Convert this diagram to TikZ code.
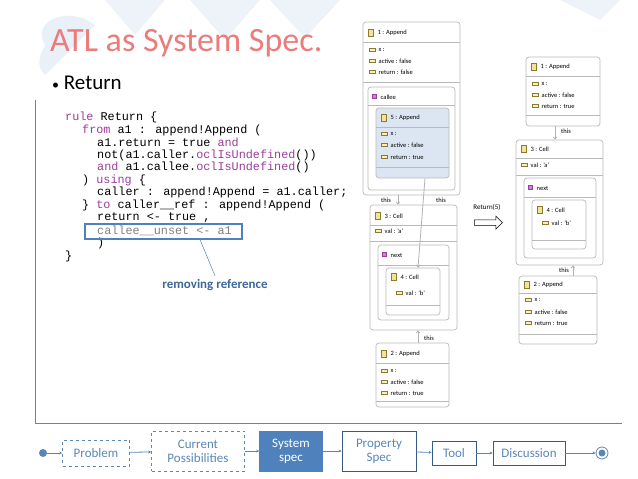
\documentclass[tikz,border=0pt]{standalone}
\usepackage{fontspec}
\setmainfont{Carlito}
\newfontfamily\codefont{Liberation Mono}
\usetikzlibrary{positioning,fit,shapes.arrows,arrows.meta}

\definecolor{titlered}{HTML}{EA7C7C}
\definecolor{slideblue}{HTML}{4F81BD}
\definecolor{flowblue}{HTML}{5A86B8}
\definecolor{kwpurple}{HTML}{9A3D9A}
\definecolor{boxfill}{HTML}{DCE6F2}
\definecolor{iconfill}{HTML}{F2E29A}
\definecolor{iconline}{HTML}{8A7A2A}

\newcommand{\kw}[1]{\textcolor{kwpurple}{#1}}
% object header: icon + text
\newcommand{\hdr}[3]{%
  \node[hicon] at (#1,#2) {};
  \node[small,anchor=west] at (#1+6,#2) {#3};}
% attribute line
\newcommand{\attr}[3]{%
  \node[aicon] at (#1,#2) {};
  \node[small,anchor=west] at (#1+6,#2) {#3};}

\begin{document}
\begin{tikzpicture}[x=1pt,y=-1pt]
\tikzset{obj/.style={draw=gray!55,rounded corners=3,line width=0.7,inner sep=0}}
\tikzset{small/.style={font=\fontsize{6.5}{7}\selectfont,inner sep=0.5}}
\tikzset{hicon/.style={draw=iconline,fill=iconfill,minimum width=5,minimum height=7,inner sep=0,line width=0.4}}
\tikzset{aicon/.style={draw=iconline,fill=iconfill!60,minimum width=6,minimum height=3,inner sep=0,line width=0.4}}
\tikzset{sep/.style={gray!55,line width=0.5}}
\tikzset{conn/.style={gray!60,line width=0.8,-{To[length=3pt,width=4pt]}}}
\tikzset{code/.style={anchor=west,inner sep=0,font=\codefont\fontsize{11.8}{12}\selectfont}}
\tikzset{stage/.style={draw=flowblue,text=flowblue,line width=0.7,align=center,font=\fontsize{13}{14}\selectfont,inner sep=0}}
\tikzset{flow/.style={flowblue,line width=0.8,-{Stealth[length=3pt,width=3pt]}}}

\useasboundingbox (0,0) rectangle (638,479);

% faint background
\fill[slideblue!10] (105,0) -- (135,35) -- (165,0) -- cycle;
\fill[slideblue!10] (190,0) -- (225,40) -- (260,0) -- cycle;
\fill[slideblue!10] (270,0) -- (305,38) -- (340,0) -- cycle;
\fill[slideblue!10] (560,0) -- (600,20) -- (620,0) -- cycle;
\fill[slideblue!12] (45,45) .. controls (30,20) and (70,5) .. (95,25) .. controls (80,40) and (60,60) .. (45,75) .. controls (35,65) and (40,55) .. (45,45);

% title
\node[anchor=west,text=titlered,font=\fontsize{34}{36}\selectfont,inner sep=0] (title) at (50,43) {ATL as System Spec.};
\node[anchor=west,font=\fontsize{21}{23}\selectfont,inner sep=0] (bullet) at (52,83) {{\fontsize{14}{14}\selectfont\textbullet}\ Return};

% code
\node[code] (l1) at (65,117) {\kw{rule} Return \{};
\node[code] (l2) at (82,130) {\kw{from} a1 : append!Append (};
\node[code] (l3) at (97,142) {a1.return = true \kw{and}};
\node[code] (l4) at (97,155) {not(a1.caller.\kw{oclIsUndefined}())};
\node[code] (l5) at (97,167) {\kw{and} a1.callee.\kw{oclIsUndefined}()};
\node[code] (l6) at (82,180) {) \kw{using} \{};
\node[code] (l7) at (97,192) {caller : append!Append = a1.caller;};
\node[code] (l8) at (82,205) {\} \kw{to} caller\_\_ref : append!Append (};
\node[code] (l9) at (97,218) {return <{}- true ,};
\node[code,text=gray] (l10) at (97,231) {callee\_\_unset <{}- a1};
\node[code] (l11) at (97,243) {)};
\node[code] (l12) at (65,256) {\}};
\node[draw=slideblue,line width=1.2,fit={(85,224)(242,239)},inner sep=0] (hl) {};
\node[text=slideblue!80!black,font=\bfseries\fontsize{13}{14}\selectfont] (rem) at (215,285) {removing reference};
\draw[slideblue,line width=0.5] (200,0 |- hl.south) -- (rem.north);

% left object stack
\node[obj,fit={(363,22)(460,195)}] (a1) {};
\hdr{371}{33}{1 : Append}
\draw[sep] (363,42) -- (460,42);
\attr{372}{50}{x :}
\attr{372}{61}{active : false}
\attr{372}{72}{return : false}
\draw[sep] (363,82) -- (460,82);
\node[obj,fit={(368,87)(455,190)}] (ce) {};
\node[draw=kwpurple,fill=kwpurple!60,minimum size=4,inner sep=0] at (374,96) {};
\node[small,anchor=west] at (380,97) {callee};
\draw[sep] (368,105) -- (455,105);
\node[obj,fill=boxfill,fit={(376,108)(449,178)}] (a5) {};
\hdr{384}{118}{5 : Append}
\draw[sep] (376,127) -- (449,127);
\attr{384}{134}{x :}
\attr{384}{145}{active : false}
\attr{384}{157}{return : true}
\draw[sep] (376,167) -- (449,167);

\node[obj,fit={(370,205)(457,330)}] (c3) {};
\hdr{378}{216}{3 : Cell}
\draw[sep] (370,225) -- (457,225);
\attr{378}{231}{val : 'a'}
\draw[sep] (370,241) -- (457,241);
\node[obj,fit={(378,245)(449,320)}] (nx) {};
\node[draw=kwpurple,fill=kwpurple!60,minimum size=4,inner sep=0] at (384,254) {};
\node[small,anchor=west] at (390,255) {next};
\draw[sep] (378,265) -- (449,265);
\node[obj,fit={(386,268)(440,315)}] (c4) {};
\hdr{394}{277}{4 : Cell}
\attr{399}{293}{val : 'b'}
\draw[sep] (386,305) -- (440,305);

\node[obj,fit={(376,343)(449,407)}] (a2) {};
\hdr{384}{354}{2 : Append}
\draw[sep] (376,363) -- (449,363);
\attr{384}{371}{x :}
\attr{384}{382}{active : false}
\attr{384}{393}{return : true}
\draw[sep] (376,401) -- (449,401);

\draw[conn] (398,0 |- a1.south) -- (398,0 |- c3.north);
\node[small] at (386,200) {this};
\draw[conn] (425,0 |- a5.south) -- (418,0 |- c4.north);
\node[small] at (441,200) {this};
\draw[conn] (418,0 |- a2.north) -- (418,0 |- c3.south);
\node[small] at (429,338) {this};

% transition
\node[font=\fontsize{7}{8}\selectfont] (rl) at (487,207) {Return(5)};
\node[single arrow,draw,line width=0.6,minimum height=28,minimum width=13,single arrow head extend=2.5,inner sep=1.5,below=6pt of rl] (ret) {};

% right object stack
\node[obj,fit={(526,57)(600,126)}] (b1) {};
\hdr{534}{67}{1 : Append}
\draw[sep] (526,76) -- (600,76);
\attr{535}{84}{x :}
\attr{535}{95}{active : false}
\attr{535}{106}{return : true}
\draw[sep] (526,115) -- (600,115);

\node[obj,fit={(516,140)(603,265)}] (d3) {};
\hdr{524}{149}{3 : Cell}
\draw[sep] (516,158) -- (603,158);
\attr{524}{165}{val : 'a'}
\draw[sep] (516,175) -- (603,175);
\node[obj,fit={(524,178)(596,258)}] (nx2) {};
\node[draw=kwpurple,fill=kwpurple!60,minimum size=4,inner sep=0] at (530,187) {};
\node[small,anchor=west] at (536,188) {next};
\draw[sep] (524,197) -- (596,197);
\node[obj,fit={(532,200)(586,249)}] (d4) {};
\hdr{540}{210}{4 : Cell}
\attr{545}{223}{val : 'b'}
\draw[sep] (532,240) -- (586,240);

\node[obj,fit={(519,276)(597,344)}] (b2) {};
\hdr{527}{285}{2 : Append}
\draw[sep] (519,293) -- (597,293);
\attr{528}{300}{x :}
\attr{528}{312}{active : false}
\attr{528}{323}{return : true}
\draw[sep] (519,334) -- (597,334);

\draw[conn] (555,0 |- b1.south) -- (555,0 |- d3.north);
\node[small] at (566,131) {this};
\draw[conn] (573,0 |- b2.north) -- (573,0 |- d3.south);
\node[small] at (564,270) {this};

% frame lines
\coordinate (fa) at (35,100);
\coordinate (fb) at (35,423);
\coordinate (fc) at (622,423);
\draw[flowblue,line width=0.8] (fa) -- (fb) -- (fc);

% bottom flow
\node[circle,fill=flowblue,minimum size=8,inner sep=0] (st) at (43,453) {};
\node[stage,dashed,minimum width=67,minimum height=26] (s1) at (96,453) {Problem};
\node[stage,dashed,minimum width=93,minimum height=40] (s2) at (198,451) {Current\\Possibilities};
\node[stage,fill=slideblue,text=white,draw=slideblue,minimum width=63,minimum height=40] (s3) at (291,451) {System\\spec};
\node[stage,draw=slideblue!70!black,minimum width=74,minimum height=40] (s4) at (379,451) {Property\\Spec};
\node[stage,draw=slideblue!70!black,minimum width=44,minimum height=24] (s5) at (454,453) {Tool};
\node[stage,draw=slideblue!70!black,minimum width=72,minimum height=24] (s6) at (529,453) {Discussion};
\node[circle,draw=flowblue,line width=0.8,minimum size=12,inner sep=0] (en) at (602,453) {};
\node[circle,fill=flowblue,minimum size=7,inner sep=0] at (en) {};
\draw[flow] (st) -- (s1);
\draw[flow] (s1) -- (s2);
\draw[flow] (s2) -- (s3);
\draw[flow] (s3) -- (s4);
\draw[flow] (s4) -- (s5);
\draw[flow] (s5) -- (s6);
\draw[flow] (s6) -- (en);
\end{tikzpicture}
\end{document}
